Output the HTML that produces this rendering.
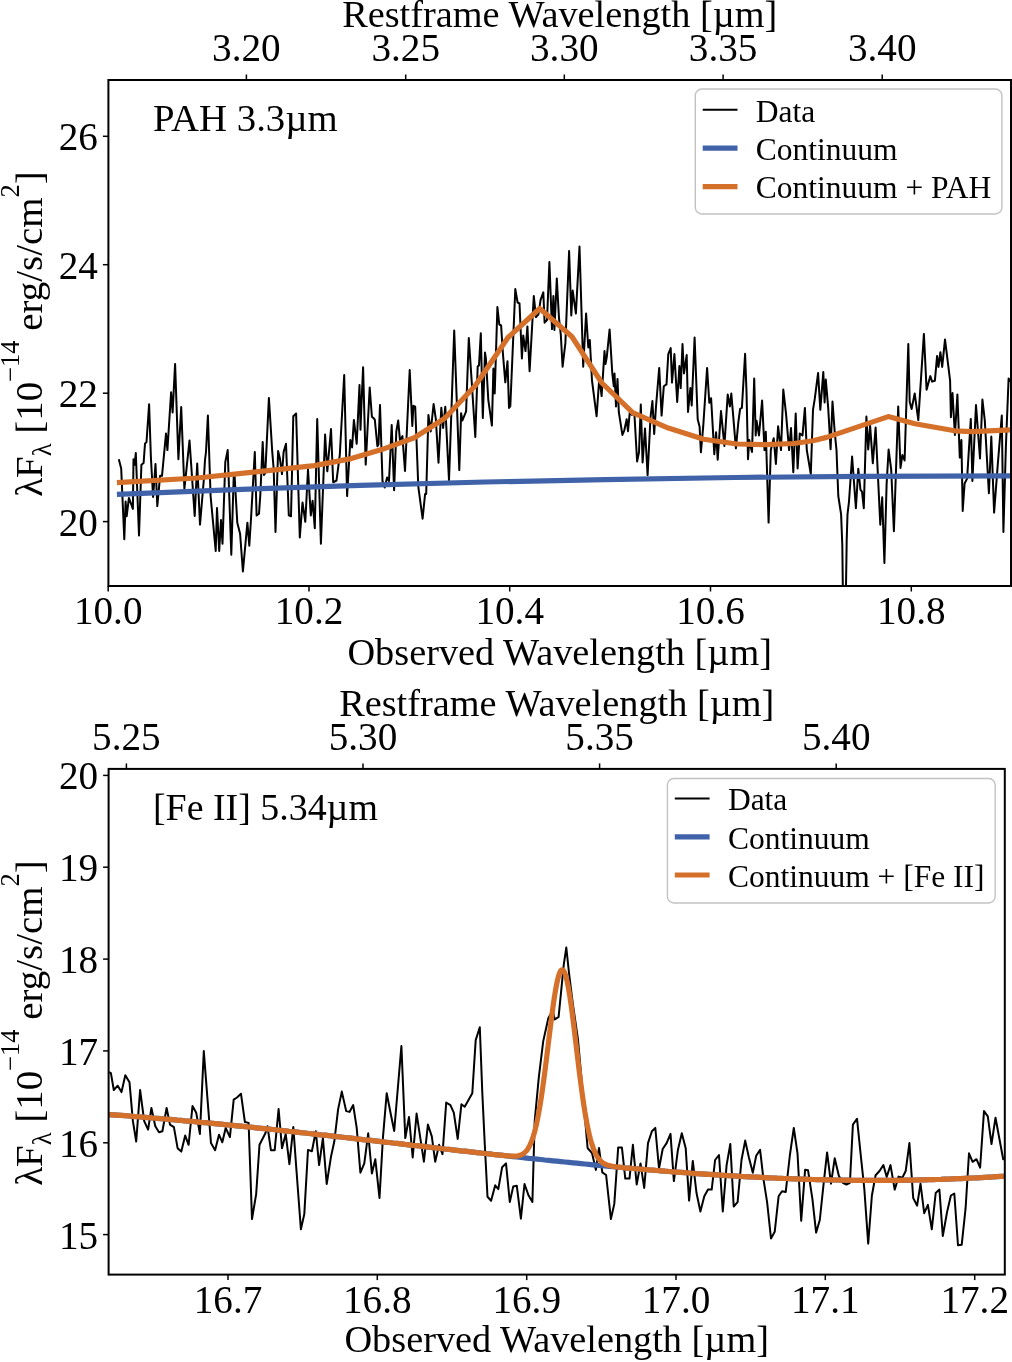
<!DOCTYPE html><html><head><meta charset="utf-8"><style>html,body{margin:0;padding:0;background:#fff;overflow:hidden}svg{display:block;will-change:transform}</style></head><body><svg width="1012" height="1362" viewBox="0 0 1012 1362" font-family="Liberation Serif, serif" fill="#000">
<defs>
<clipPath id="c1"><rect x="108.4" y="80" width="902.6" height="506"/></clipPath>
<clipPath id="c2"><rect x="108.6" y="768.9" width="896.1999999999999" height="505.69999999999993"/></clipPath>
</defs>
<style>.tk{stroke:#000;stroke-width:1.5}.ax{fill:none;stroke:#000;stroke-width:2}</style>
<rect width="1012" height="1362" fill="#fff"/>
<polyline points="118.8,459.3 121.2,468.5 124.3,539.2 125.6,501.5 126.7,516.2 128.9,497.9 132.9,508.9 133.5,459.3 134.7,464.8 135.8,452.9 139.0,535.5 141.4,464.8 143.6,463.0 145.0,443.7 146.5,442.0 149.1,404.2 150.9,457.5 153.1,497.0 155.5,463.9 157.3,506.1 160.1,475.8 162.0,475.8 166.0,433.6 167.4,450.1 171.1,392.3 172.6,412.5 175.1,363.9 178.4,459.3 181.2,407.0 184.4,489.0 189.5,440.4 194.7,516.0 197.2,463.5 200.0,524.6 203.8,480.0 205.0,460.0 206.0,452.0 207.9,415.5 210.6,496.0 215.7,551.0 217.0,508.0 219.2,551.0 221.0,520.0 222.5,543.7 225.3,462.0 227.7,450.1 231.3,554.8 233.7,476.9 234.6,476.0 237.3,522.7 240.1,533.7 242.9,571.4 247.4,522.7 249.3,545.7 251.1,517.2 254.8,452.1 256.6,515.4 259.0,513.6 260.3,495.2 262.7,442.0 264.0,475.0 265.3,473.0 268.9,397.9 272.2,451.1 273.7,469.5 275.5,531.9 278.1,451.1 279.9,458.5 282.0,474.1 283.6,452.1 286.0,443.8 288.8,515.4 291.0,516.3 293.3,416.3 296.1,413.5 299.8,537.4 302.5,502.5 305.3,521.8 308.0,469.5 310.8,515.4 312.6,500.7 314.8,528.2 317.2,419.0 320.9,543.8 325.1,434.6 327.3,471.3 331.0,429.1 333.2,482.3 336.5,480.5 339.8,454.8 344.2,375.0 347.1,496.1 350.3,440.1 352.1,447.5 353.9,419.9 356.7,443.8 359.5,385.1 360.5,429.7 361.4,405.8 363.1,367.3 365.7,464.6 369.7,387.5 371.9,416.8 373.4,418.0 374.8,419.6 377.4,446.2 378.5,444.4 380.0,404.9 382.5,481.1 384.7,487.5 387.1,477.4 389.0,481.0 391.7,425.1 394.1,490.3 396.3,431.5 398.2,420.5 400.0,440.7 402.4,436.1 405.0,471.0 409.7,370.0 412.3,426.0 413.4,405.8 415.2,406.7 418.3,486.6 422.6,518.7 425.1,493.9 426.2,493.9 428.4,415.0 430.7,431.5 433.6,404.0 435.8,418.7 438.5,462.7 441.3,407.7 443.1,427.9 445.3,406.7 449.0,480.2 454.2,330.6 459.3,470.1 461.1,413.2 462.4,420.5 466.1,411.3 468.8,337.9 471.6,380.1 475.3,437.0 477.7,366.4 479.0,365.4 480.8,333.3 482.8,418.1 485.0,352.6 485.9,358.5 488.3,399.8 491.9,425.5 493.4,368.6 494.7,393.4 497.4,307.1 499.3,324.5 501.1,325.4 503.0,354.8 505.3,382.3 507.5,361.2 509.0,408.0 510.3,406.2 515.3,289.1 517.6,302.5 519.5,303.4 521.9,358.5 523.2,335.5 525.5,351.1 527.4,326.4 529.6,371.3 533.8,296.1 536.0,317.2 538.4,314.4 540.6,299.8 543.3,292.4 544.6,322.7 547.0,320.0 549.4,262.1 552.0,329.1 553.4,296.1 554.4,330.0 556.8,278.6 559.0,318.1 560.8,334.6 562.6,366.7 565.4,342.9 569.1,251.1 571.3,315.4 572.7,290.6 575.9,313.5 579.5,246.5 583.2,366.7 586.1,313.5 588.3,347.5 589.8,340.1 592.0,380.5 596.6,416.3 599.4,376.8 601.6,396.1 604.5,351.1 605.5,364.0 606.8,356.9 609.6,329.4 612.3,373.4 613.8,386.3 614.5,373.4 616.0,406.5 617.5,378.9 618.8,412.0 622.4,434.9 624.3,430.3 626.7,419.3 628.0,431.2 629.8,412.0 631.6,414.7 634.4,413.8 637.1,461.5 639.0,452.3 640.8,404.6 642.6,462.4 645.0,428.5 647.6,475.3 650.5,417.5 652.4,401.0 654.2,434.0 656.0,406.5 659.2,367.9 661.6,415.6 663.8,386.3 666.5,384.4 668.3,354.1 670.7,348.1 672.0,382.6 674.4,354.1 677.2,401.9 679.4,366.1 680.7,388.1 682.5,344.1 684.0,373.4 686.7,355.1 688.0,412.0 690.4,388.1 691.7,405.5 694.6,337.6 697.7,419.3 699.6,426.7 700.9,452.3 703.2,426.7 707.1,367.9 709.3,402.8 711.1,398.2 714.3,454.2 716.1,432.2 717.7,459.7 721.0,411.1 724.4,445.9 727.7,394.5 729.9,406.5 731.3,393.6 733.3,417.1 735.9,448.3 738.3,422.6 740.1,408.8 741.9,407.9 743.2,385.9 745.1,353.8 746.5,391.4 748.0,459.3 749.3,440.0 750.6,446.5 752.0,452.0 754.2,378.5 755.7,435.4 756.6,420.8 759.0,435.4 762.1,400.6 764.5,450.1 765.8,431.8 768.6,522.6 770.8,450.1 773.7,438.2 775.9,463.9 778.1,426.3 781.0,450.1 783.3,389.6 786.0,413.4 789.1,450.1 791.0,428.1 793.3,472.2 795.7,413.4 797.6,468.5 799.8,433.6 802.5,435.4 804.9,407.9 806.8,450.1 810.8,474.0 813.0,409.8 814.8,398.7 818.1,373.0 820.3,409.8 823.3,372.1 824.6,402.4 825.8,379.5 828.2,407.9 830.6,449.2 832.5,401.5 834.7,431.8 836.5,450.1 838.3,496.0 841.1,514.4 842.3,545.0 843.0,600.0 845.8,600.0 846.7,540.0 847.5,514.4 849.0,501.5 852.1,456.6 855.9,508.2 858.3,468.8 860.5,489.9 862.0,491.7 863.8,508.2 866.4,416.5 868.2,449.5 870.1,425.6 872.8,463.3 875.6,427.5 880.3,524.8 882.2,497.2 884.4,563.0 886.6,484.4 888.6,449.5 891.2,469.7 893.9,531.2 898.2,406.4 900.5,467.9 902.4,455.0 904.6,460.5 908.3,344.0 909.7,401.8 911.6,409.1 914.7,393.5 918.3,420.1 923.9,333.9 926.6,389.8 930.3,376.1 932.1,381.6 934.9,380.7 937.1,355.9 938.5,366.9 940.4,352.2 942.2,366.9 945.0,339.4 950.1,380.7 950.9,417.2 952.5,393.0 954.9,435.0 957.4,394.6 959.8,457.6 961.4,439.9 962.7,510.9 964.6,483.5 967.1,478.6 970.8,418.9 972.4,481.0 976.0,405.1 980.0,458.4 982.4,399.5 984.8,420.5 988.9,493.2 991.3,436.6 994.1,512.6 997.8,464.1 1001.8,415.6 1003.4,531.9 1005.9,446.3 1008.6,378.5 1010.7,381.7 1013.0,385.0" fill="none" stroke="#000" stroke-width="2.0" stroke-linejoin="round" stroke-linecap="butt" clip-path="url(#c1)"/>
<polyline points="116.9,494.4 235.0,489.6 360.0,485.3 485.0,482.0 605.0,479.7 735.0,477.5 860.0,476.3 1012.0,475.8" fill="none" stroke="#3F62A8" stroke-width="5.2" stroke-linejoin="round" stroke-linecap="butt" clip-path="url(#c1)"/>
<polyline points="116.9,482.7 197.0,478.0 253.5,472.2 314.3,465.6 351.3,458.6 381.7,449.6 414.3,437.8 444.8,418.3 475.2,385.7 508.0,337.5 539.7,308.5 571.8,336.5 601.9,383.0 632.7,412.7 668.3,428.1 703.8,439.2 737.0,444.0 765.5,444.7 794.0,443.5 812.9,440.7 826.6,437.4 888.3,416.6 914.9,423.8 954.7,430.8 971.8,431.7 1012.0,429.8" fill="none" stroke="#D5702A" stroke-width="5.2" stroke-linejoin="round" stroke-linecap="butt" clip-path="url(#c1)"/>
<polyline points="109.2,1072.2 110.9,1073.1 113.8,1090.0 117.7,1085.7 121.5,1092.1 125.3,1075.3 129.5,1082.3 132.9,1121.2 136.2,1141.5 140.1,1090.0 144.2,1121.2 148.1,1129.6 151.4,1108.0 155.3,1126.3 159.0,1132.2 162.4,1131.3 166.6,1108.0 170.0,1124.6 173.9,1127.1 177.6,1148.2 181.3,1151.6 185.2,1135.5 188.6,1144.8 192.5,1106.0 196.2,1112.7 199.9,1133.9 203.8,1051.1 207.1,1094.2 211.0,1143.1 215.1,1150.2 219.0,1134.7 222.3,1142.3 225.7,1127.9 229.9,1137.2 233.7,1099.6 237.0,1097.5 241.0,1093.8 244.9,1122.0 248.6,1122.9 252.0,1219.1 256.2,1193.8 259.5,1144.8 265.5,1133.0 267.5,1126.3 270.9,1150.2 274.7,1150.2 278.6,1109.0 282.0,1148.2 285.7,1133.9 289.4,1164.2 293.3,1127.1 296.7,1173.5 300.9,1229.3 304.3,1214.1 308.0,1149.9 311.9,1151.2 315.8,1131.3 319.1,1165.1 322.9,1138.1 326.7,1184.0 331.0,1156.6 334.3,1141.5 338.1,1109.4 341.8,1091.6 346.2,1111.1 349.5,1111.9 353.2,1105.1 356.7,1127.9 360.4,1172.7 364.3,1163.4 368.2,1133.3 371.9,1173.5 375.3,1159.2 379.5,1198.0 382.9,1138.1 386.7,1093.3 390.5,1112.7 394.2,1131.0 401.4,1046.0 405.3,1138.1 409.0,1117.0 412.7,1157.5 416.6,1113.6 423.9,1161.7 427.9,1124.6 431.8,1136.4 435.2,1161.7 439.1,1144.8 442.5,1154.1 446.2,1102.6 450.4,1105.1 453.8,1112.7 457.7,1138.9 461.4,1104.3 464.7,1106.8 472.3,1093.3 475.7,1040.1 479.8,1027.2 482.3,1092.8 484.9,1146.7 487.5,1196.8 491.1,1200.7 495.2,1185.3 498.3,1189.1 502.1,1167.3 506.0,1163.4 509.8,1202.0 513.2,1186.6 516.8,1185.8 520.9,1218.7 524.5,1184.0 528.6,1195.6 532.4,1202.0 534.7,1121.0 538.8,1077.3 543.2,1041.4 548.3,1018.2 552.7,1010.5 554.8,1019.5 558.6,1016.9 563.8,964.3 566.3,947.5 568.9,972.0 572.7,1002.8 577.9,1038.8 583.0,1095.3 587.6,1148.0 592.0,1153.1 595.9,1169.9 599.0,1148.0 602.3,1172.4 606.1,1175.0 610.9,1219.1 614.3,1203.9 618.2,1147.4 621.9,1147.4 625.3,1178.6 629.5,1178.6 632.9,1144.8 636.7,1184.5 640.5,1163.4 644.2,1187.9 648.0,1143.1 651.9,1131.3 655.3,1127.9 659.0,1168.5 662.7,1149.0 666.6,1143.1 670.5,1133.9 673.9,1181.1 677.9,1149.9 681.8,1133.3 685.7,1148.2 689.1,1200.6 692.8,1160.9 696.5,1193.0 700.4,1211.5 704.3,1196.3 708.0,1189.6 711.7,1189.6 715.1,1160.0 719.0,1155.0 722.8,1211.5 726.6,1165.1 730.3,1144.0 733.7,1206.5 737.6,1202.2 741.5,1160.0 745.2,1140.6 748.9,1157.5 752.8,1172.7 756.2,1155.8 760.1,1149.9 763.4,1178.6 767.1,1202.2 771.0,1238.5 774.7,1231.8 778.6,1196.3 782.0,1191.3 785.7,1192.1 789.9,1155.0 793.8,1127.9 797.5,1153.3 801.2,1220.8 805.1,1169.8 808.0,1170.2 812.4,1198.9 816.1,1232.6 819.8,1220.0 823.7,1182.8 827.1,1152.4 831.0,1183.7 834.7,1158.3 838.9,1176.1 842.8,1182.8 846.5,1184.5 849.9,1182.8 852.9,1124.6 857.0,1118.7 860.9,1156.6 864.3,1188.7 868.2,1243.6 871.9,1195.5 875.6,1175.2 879.5,1171.0 883.4,1165.1 886.7,1176.9 890.5,1165.1 894.7,1189.6 898.6,1176.6 902.3,1177.8 905.7,1171.0 909.4,1143.1 913.2,1198.0 917.1,1205.6 920.5,1183.7 924.2,1213.2 927.9,1204.8 931.8,1229.3 935.7,1193.0 939.4,1189.6 942.8,1236.0 947.0,1212.4 950.9,1195.5 954.3,1193.5 958.0,1245.3 961.7,1244.8 965.6,1208.2 969.0,1153.3 972.6,1161.8 976.5,1159.2 980.1,1167.7 984.0,1111.1 987.8,1116.3 991.5,1144.1 995.5,1117.7 1003.2,1159.3 1006.0,1159.3" fill="none" stroke="#000" stroke-width="2.0" stroke-linejoin="round" stroke-linecap="butt" clip-path="url(#c2)"/>
<polyline points="108.9,1114.6 112.9,1114.8 116.9,1115.1 120.9,1115.4 124.9,1115.7 128.9,1116.0 132.9,1116.4 136.9,1116.7 140.9,1117.0 144.9,1117.3 148.9,1117.6 152.9,1118.0 156.9,1118.3 160.9,1118.7 164.9,1119.0 168.9,1119.3 172.9,1119.7 176.9,1120.1 180.9,1120.4 184.9,1120.8 188.9,1121.1 192.9,1121.5 196.9,1121.9 200.9,1122.3 204.9,1122.6 208.9,1123.0 212.9,1123.4 216.9,1123.8 220.9,1124.2 224.9,1124.6 228.9,1125.0 232.9,1125.4 236.9,1125.8 240.9,1126.2 244.9,1126.6 248.9,1127.0 252.9,1127.4 256.9,1127.9 260.9,1128.3 264.9,1128.7 268.9,1129.1 272.9,1129.5 276.9,1130.0 280.9,1130.4 284.9,1130.8 288.9,1131.3 292.9,1131.7 296.9,1132.1 300.9,1132.6 304.9,1133.0 308.9,1133.5 312.9,1133.9 316.9,1134.3 320.9,1134.8 324.9,1135.2 328.9,1135.7 332.9,1136.1 336.9,1136.6 340.9,1137.0 344.9,1137.5 348.9,1137.9 352.9,1138.4 356.9,1138.9 360.9,1139.3 364.9,1139.8 368.9,1140.2 372.9,1140.7 376.9,1141.1 380.9,1141.6 384.9,1142.1 388.9,1142.5 392.9,1143.0 396.9,1143.4 400.9,1143.9 404.9,1144.4 408.9,1144.8 412.9,1145.3 416.9,1145.7 420.9,1146.2 424.9,1146.7 428.9,1147.1 432.9,1147.6 436.9,1148.0 440.9,1148.5 444.9,1149.0 448.9,1149.4 452.9,1149.9 456.9,1150.3 460.9,1150.8 464.9,1151.2 468.9,1151.7 472.9,1152.1 476.9,1152.6 480.9,1153.0 484.9,1153.5 488.9,1153.9 492.9,1154.4 496.9,1154.8 500.9,1155.2 504.9,1155.7 508.9,1156.1 512.9,1156.6 516.9,1157.0 520.9,1157.4 524.9,1157.8 528.9,1158.3 532.9,1158.7 536.9,1159.1 540.9,1159.5 544.9,1160.0 548.9,1160.4 552.9,1160.8 556.9,1161.2 560.9,1161.6 564.9,1162.0 568.9,1162.4 572.9,1162.8 576.9,1163.2 580.9,1163.6 584.9,1164.0 588.9,1164.4 592.9,1164.8 596.9,1165.2 600.9,1165.6 604.9,1165.9 608.9,1166.3 612.9,1166.7 616.9,1167.1 620.9,1167.4 624.9,1167.8 628.9,1168.1 632.9,1168.5 636.9,1168.8 640.9,1169.2 644.9,1169.5 648.9,1169.9 652.9,1170.2 656.9,1170.5 660.9,1170.8 664.9,1171.2 668.9,1171.5 672.9,1171.8 676.9,1172.1 680.9,1172.4 684.9,1172.7 688.9,1173.0 692.9,1173.3 696.9,1173.6 700.9,1173.8 704.9,1174.1 708.9,1174.4 712.9,1174.7 716.9,1174.9 720.9,1175.2 724.9,1175.4 728.9,1175.7 732.9,1175.9 736.9,1176.1 740.9,1176.4 744.9,1176.6 748.9,1176.8 752.9,1177.0 756.9,1177.2 760.9,1177.4 764.9,1177.6 768.9,1177.8 772.9,1178.0 776.9,1178.2 780.9,1178.3 784.9,1178.5 788.9,1178.7 792.9,1178.8 796.9,1178.9 800.9,1179.1 804.9,1179.2 808.9,1179.3 812.9,1179.5 816.9,1179.6 820.9,1179.7 824.9,1179.8 828.9,1179.9 832.9,1180.0 836.9,1180.0 840.9,1180.1 844.9,1180.2 848.9,1180.2 852.9,1180.3 856.9,1180.3 860.9,1180.3 864.9,1180.4 868.9,1180.4 872.9,1180.4 876.9,1180.4 880.9,1180.4 884.9,1180.4 888.9,1180.4 892.9,1180.3 896.9,1180.3 900.9,1180.3 904.9,1180.2 908.9,1180.1 912.9,1180.1 916.9,1180.0 920.9,1179.9 924.9,1179.8 928.9,1179.7 932.9,1179.6 936.9,1179.5 940.9,1179.4 944.9,1179.2 948.9,1179.1 952.9,1178.9 956.9,1178.7 960.9,1178.6 964.9,1178.4 968.9,1178.2 972.9,1178.0 976.9,1177.8 980.9,1177.6 984.9,1177.3 988.9,1177.1 992.9,1176.9 996.9,1176.6 1000.9,1176.3 1004.9,1176.1 1008.9,1175.8" fill="none" stroke="#3F62A8" stroke-width="5.2" stroke-linejoin="round" stroke-linecap="butt" clip-path="url(#c2)"/>
<polyline points="108.9,1114.6 112.9,1114.8 116.9,1115.1 120.9,1115.4 124.9,1115.7 128.9,1116.0 132.9,1116.4 136.9,1116.7 140.9,1117.0 144.9,1117.3 148.9,1117.6 152.9,1118.0 156.9,1118.3 160.9,1118.7 164.9,1119.0 168.9,1119.3 172.9,1119.7 176.9,1120.1 180.9,1120.4 184.9,1120.8 188.9,1121.1 192.9,1121.5 196.9,1121.9 200.9,1122.3 204.9,1122.6 208.9,1123.0 212.9,1123.4 216.9,1123.8 220.9,1124.2 224.9,1124.6 228.9,1125.0 232.9,1125.4 236.9,1125.8 240.9,1126.2 244.9,1126.6 248.9,1127.0 252.9,1127.4 256.9,1127.9 260.9,1128.3 264.9,1128.7 268.9,1129.1 272.9,1129.5 276.9,1130.0 280.9,1130.4 284.9,1130.8 288.9,1131.3 292.9,1131.7 296.9,1132.1 300.9,1132.6 304.9,1133.0 308.9,1133.5 312.9,1133.9 316.9,1134.3 320.9,1134.8 324.9,1135.2 328.9,1135.7 332.9,1136.1 336.9,1136.6 340.9,1137.0 344.9,1137.5 348.9,1137.9 352.9,1138.4 356.9,1138.9 360.9,1139.3 364.9,1139.8 368.9,1140.2 372.9,1140.7 376.9,1141.1 380.9,1141.6 384.9,1142.1 388.9,1142.5 392.9,1143.0 396.9,1143.4 400.9,1143.9 404.9,1144.4 408.9,1144.8 412.9,1145.3 416.9,1145.7 420.9,1146.2 424.9,1146.7 428.9,1147.1 432.9,1147.6 436.9,1148.0 440.9,1148.5 444.9,1149.0 448.9,1149.4 452.9,1149.9 456.9,1150.3 460.9,1150.8 464.9,1151.2 468.9,1151.7 472.9,1152.1 476.9,1152.6 480.9,1153.0 484.9,1153.5 488.9,1153.9 492.9,1154.4 496.9,1154.8 500.9,1155.2 502.3,1155.4 502.8,1155.4 503.3,1155.5 503.8,1155.5 504.3,1155.6 504.8,1155.6 504.9,1155.6 505.3,1155.7 505.8,1155.7 506.3,1155.8 506.8,1155.8 507.3,1155.9 507.8,1155.9 508.3,1155.9 508.8,1156.0 508.9,1156.0 509.3,1156.0 509.8,1156.0 510.3,1156.1 510.8,1156.1 511.3,1156.1 511.8,1156.1 512.3,1156.2 512.8,1156.2 512.9,1156.2 513.3,1156.2 513.8,1156.2 514.3,1156.2 514.8,1156.2 515.3,1156.1 515.8,1156.1 516.3,1156.1 516.8,1156.0 516.9,1156.0 517.3,1155.9 517.8,1155.9 518.3,1155.8 518.8,1155.7 519.3,1155.5 519.8,1155.4 520.3,1155.2 520.8,1155.0 520.9,1155.0 521.3,1154.8 521.8,1154.6 522.3,1154.3 522.8,1154.0 523.3,1153.7 523.8,1153.4 524.3,1153.0 524.8,1152.5 524.9,1152.4 525.3,1152.0 525.8,1151.5 526.3,1151.0 526.8,1150.3 527.3,1149.7 527.8,1148.9 528.3,1148.2 528.8,1147.3 528.9,1147.1 529.3,1146.4 529.8,1145.4 530.3,1144.3 530.8,1143.2 531.3,1142.0 531.8,1140.7 532.3,1139.3 532.8,1137.8 532.9,1137.5 533.3,1136.3 533.8,1134.6 534.3,1132.9 534.8,1131.0 535.3,1129.1 535.8,1127.0 536.3,1124.8 536.8,1122.6 536.9,1122.1 537.3,1120.2 537.8,1117.7 538.3,1115.1 538.8,1112.4 539.3,1109.6 539.8,1106.7 540.3,1103.6 540.8,1100.5 540.9,1099.9 541.3,1097.3 541.8,1093.9 542.3,1090.5 542.8,1087.0 543.3,1083.4 543.8,1079.7 544.3,1075.9 544.8,1072.1 544.9,1071.3 545.3,1068.2 545.8,1064.2 546.3,1060.2 546.8,1056.2 547.3,1052.1 547.8,1048.0 548.3,1043.9 548.8,1039.8 548.9,1039.0 549.3,1035.7 549.8,1031.6 550.3,1027.6 550.8,1023.6 551.3,1019.7 551.8,1015.8 552.3,1012.0 552.8,1008.3 552.9,1007.6 553.3,1004.7 553.8,1001.2 554.3,997.9 554.8,994.7 555.3,991.6 555.8,988.7 556.3,986.0 556.8,983.5 556.9,983.0 557.3,981.1 557.8,979.0 558.3,977.1 558.8,975.3 559.3,973.9 559.8,972.6 560.3,971.5 560.8,970.7 560.9,970.6 561.3,970.2 561.8,969.9 562.3,969.8 562.8,970.0 563.3,970.4 563.8,971.1 564.3,972.0 564.8,973.1 564.9,973.3 565.3,974.5 565.8,976.1 566.3,977.9 566.8,979.9 567.3,982.2 567.8,984.6 568.3,987.3 568.8,990.1 568.9,990.7 569.3,993.1 569.8,996.2 570.3,999.5 570.8,1003.0 571.3,1006.5 571.8,1010.2 572.3,1014.0 572.8,1017.9 572.9,1018.7 573.3,1021.9 573.8,1025.9 574.3,1030.0 574.8,1034.2 575.3,1038.3 575.8,1042.5 576.3,1046.7 576.8,1050.9 576.9,1051.8 577.3,1055.1 577.8,1059.3 578.3,1063.5 578.8,1067.6 579.3,1071.6 579.8,1075.6 580.3,1079.6 580.8,1083.4 580.9,1084.2 581.3,1087.2 581.8,1090.9 582.3,1094.6 582.8,1098.1 583.3,1101.5 583.8,1104.9 584.3,1108.1 584.8,1111.2 584.9,1111.9 585.3,1114.3 585.8,1117.2 586.3,1120.0 586.8,1122.7 587.3,1125.3 587.8,1127.8 588.3,1130.1 588.8,1132.4 588.9,1132.8 589.3,1134.6 589.8,1136.6 590.3,1138.6 590.8,1140.4 591.3,1142.2 591.8,1143.8 592.3,1145.4 592.8,1146.9 592.9,1147.2 593.3,1148.3 593.8,1149.6 594.3,1150.8 594.8,1152.0 595.3,1153.1 595.8,1154.1 596.3,1155.1 596.8,1156.0 596.9,1156.1 597.3,1156.8 597.8,1157.6 598.3,1158.3 598.8,1158.9 599.3,1159.6 599.8,1160.1 600.3,1160.7 600.8,1161.2 600.9,1161.3 601.3,1161.6 601.8,1162.1 602.3,1162.5 602.8,1162.8 603.3,1163.2 603.8,1163.5 604.3,1163.7 604.8,1164.0 604.9,1164.1 605.3,1164.3 605.8,1164.5 606.3,1164.7 606.8,1164.9 607.3,1165.1 607.8,1165.2 608.3,1165.4 608.8,1165.5 608.9,1165.6 609.3,1165.7 609.8,1165.8 610.3,1165.9 610.8,1166.0 611.3,1166.1 611.8,1166.2 612.3,1166.3 612.8,1166.4 612.9,1166.4 613.3,1166.5 613.8,1166.5 614.3,1166.6 614.8,1166.7 615.3,1166.8 615.8,1166.8 616.3,1166.9 616.8,1166.9 616.9,1167.0 617.3,1167.0 617.8,1167.1 618.3,1167.1 618.8,1167.2 619.3,1167.2 619.8,1167.3 620.3,1167.3 620.8,1167.4 620.9,1167.4 621.3,1167.4 621.8,1167.5 622.3,1167.5 624.9,1167.8 628.9,1168.1 632.9,1168.5 636.9,1168.8 640.9,1169.2 644.9,1169.5 648.9,1169.9 652.9,1170.2 656.9,1170.5 660.9,1170.8 664.9,1171.2 668.9,1171.5 672.9,1171.8 676.9,1172.1 680.9,1172.4 684.9,1172.7 688.9,1173.0 692.9,1173.3 696.9,1173.6 700.9,1173.8 704.9,1174.1 708.9,1174.4 712.9,1174.7 716.9,1174.9 720.9,1175.2 724.9,1175.4 728.9,1175.7 732.9,1175.9 736.9,1176.1 740.9,1176.4 744.9,1176.6 748.9,1176.8 752.9,1177.0 756.9,1177.2 760.9,1177.4 764.9,1177.6 768.9,1177.8 772.9,1178.0 776.9,1178.2 780.9,1178.3 784.9,1178.5 788.9,1178.7 792.9,1178.8 796.9,1178.9 800.9,1179.1 804.9,1179.2 808.9,1179.3 812.9,1179.5 816.9,1179.6 820.9,1179.7 824.9,1179.8 828.9,1179.9 832.9,1180.0 836.9,1180.0 840.9,1180.1 844.9,1180.2 848.9,1180.2 852.9,1180.3 856.9,1180.3 860.9,1180.3 864.9,1180.4 868.9,1180.4 872.9,1180.4 876.9,1180.4 880.9,1180.4 884.9,1180.4 888.9,1180.4 892.9,1180.3 896.9,1180.3 900.9,1180.3 904.9,1180.2 908.9,1180.1 912.9,1180.1 916.9,1180.0 920.9,1179.9 924.9,1179.8 928.9,1179.7 932.9,1179.6 936.9,1179.5 940.9,1179.4 944.9,1179.2 948.9,1179.1 952.9,1178.9 956.9,1178.7 960.9,1178.6 964.9,1178.4 968.9,1178.2 972.9,1178.0 976.9,1177.8 980.9,1177.6 984.9,1177.3 988.9,1177.1 992.9,1176.9 996.9,1176.6 1000.9,1176.3 1004.9,1176.1 1008.9,1175.8" fill="none" stroke="#D5702A" stroke-width="5.2" stroke-linejoin="round" stroke-linecap="butt" clip-path="url(#c2)"/>
<rect x="108.4" y="80" width="902.6" height="506" class="ax"/>
<line x1="108.2" y1="586" x2="108.2" y2="591.5" class="tk"/>
<text x="108.2" y="624.0" font-size="39.2" text-anchor="middle" >10.0</text>
<line x1="309.0" y1="586" x2="309.0" y2="591.5" class="tk"/>
<text x="309.0" y="624.0" font-size="39.2" text-anchor="middle" >10.2</text>
<line x1="509.7" y1="586" x2="509.7" y2="591.5" class="tk"/>
<text x="509.7" y="624.0" font-size="39.2" text-anchor="middle" >10.4</text>
<line x1="710.5" y1="586" x2="710.5" y2="591.5" class="tk"/>
<text x="710.5" y="624.0" font-size="39.2" text-anchor="middle" >10.6</text>
<line x1="911.3" y1="586" x2="911.3" y2="591.5" class="tk"/>
<text x="911.3" y="624.0" font-size="39.2" text-anchor="middle" >10.8</text>
<line x1="246.4" y1="80" x2="246.4" y2="74.5" class="tk"/>
<text x="246.4" y="61.0" font-size="39.2" text-anchor="middle" >3.20</text>
<line x1="405.7" y1="80" x2="405.7" y2="74.5" class="tk"/>
<text x="405.7" y="61.0" font-size="39.2" text-anchor="middle" >3.25</text>
<line x1="564.3" y1="80" x2="564.3" y2="74.5" class="tk"/>
<text x="564.3" y="61.0" font-size="39.2" text-anchor="middle" >3.30</text>
<line x1="723.1" y1="80" x2="723.1" y2="74.5" class="tk"/>
<text x="723.1" y="61.0" font-size="39.2" text-anchor="middle" >3.35</text>
<line x1="882.2" y1="80" x2="882.2" y2="74.5" class="tk"/>
<text x="882.2" y="61.0" font-size="39.2" text-anchor="middle" >3.40</text>
<line x1="108.4" y1="521.6" x2="102.9" y2="521.6" class="tk"/>
<text x="97.9" y="535.6" font-size="39.2" text-anchor="end" >20</text>
<line x1="108.4" y1="393.2" x2="102.9" y2="393.2" class="tk"/>
<text x="97.9" y="407.2" font-size="39.2" text-anchor="end" >22</text>
<line x1="108.4" y1="264.7" x2="102.9" y2="264.7" class="tk"/>
<text x="97.9" y="278.7" font-size="39.2" text-anchor="end" >24</text>
<line x1="108.4" y1="136.3" x2="102.9" y2="136.3" class="tk"/>
<text x="97.9" y="150.3" font-size="39.2" text-anchor="end" >26</text>
<text x="559.7" y="26.7" font-size="38.3" text-anchor="middle" >Restframe Wavelength [µm]</text>
<text x="559.7" y="664.5" font-size="38.3" text-anchor="middle" >Observed Wavelength [µm]</text>
<rect x="108.6" y="768.9" width="896.1999999999999" height="505.69999999999993" class="ax"/>
<line x1="228.0" y1="1274.6" x2="228.0" y2="1280.1" class="tk"/>
<text x="228.0" y="1312.6" font-size="39.2" text-anchor="middle" >16.7</text>
<line x1="377.3" y1="1274.6" x2="377.3" y2="1280.1" class="tk"/>
<text x="377.3" y="1312.6" font-size="39.2" text-anchor="middle" >16.8</text>
<line x1="526.7" y1="1274.6" x2="526.7" y2="1280.1" class="tk"/>
<text x="526.7" y="1312.6" font-size="39.2" text-anchor="middle" >16.9</text>
<line x1="676.0" y1="1274.6" x2="676.0" y2="1280.1" class="tk"/>
<text x="676.0" y="1312.6" font-size="39.2" text-anchor="middle" >17.0</text>
<line x1="825.3" y1="1274.6" x2="825.3" y2="1280.1" class="tk"/>
<text x="825.3" y="1312.6" font-size="39.2" text-anchor="middle" >17.1</text>
<line x1="974.7" y1="1274.6" x2="974.7" y2="1280.1" class="tk"/>
<text x="974.7" y="1312.6" font-size="39.2" text-anchor="middle" >17.2</text>
<line x1="126.4" y1="768.9" x2="126.4" y2="763.4" class="tk"/>
<text x="126.4" y="749.7" font-size="39.2" text-anchor="middle" >5.25</text>
<line x1="363.0" y1="768.9" x2="363.0" y2="763.4" class="tk"/>
<text x="363.0" y="749.7" font-size="39.2" text-anchor="middle" >5.30</text>
<line x1="599.6" y1="768.9" x2="599.6" y2="763.4" class="tk"/>
<text x="599.6" y="749.7" font-size="39.2" text-anchor="middle" >5.35</text>
<line x1="836.2" y1="768.9" x2="836.2" y2="763.4" class="tk"/>
<text x="836.2" y="749.7" font-size="39.2" text-anchor="middle" >5.40</text>
<line x1="108.6" y1="1234.6" x2="103.1" y2="1234.6" class="tk"/>
<text x="98.1" y="1248.6" font-size="39.2" text-anchor="end" >15</text>
<line x1="108.6" y1="1142.8" x2="103.1" y2="1142.8" class="tk"/>
<text x="98.1" y="1156.8" font-size="39.2" text-anchor="end" >16</text>
<line x1="108.6" y1="1050.9" x2="103.1" y2="1050.9" class="tk"/>
<text x="98.1" y="1064.9" font-size="39.2" text-anchor="end" >17</text>
<line x1="108.6" y1="959.1" x2="103.1" y2="959.1" class="tk"/>
<text x="98.1" y="973.1" font-size="39.2" text-anchor="end" >18</text>
<line x1="108.6" y1="867.2" x2="103.1" y2="867.2" class="tk"/>
<text x="98.1" y="881.2" font-size="39.2" text-anchor="end" >19</text>
<line x1="108.6" y1="775.4" x2="103.1" y2="775.4" class="tk"/>
<text x="98.1" y="789.4" font-size="39.2" text-anchor="end" >20</text>
<text x="556.7" y="715.6" font-size="38.3" text-anchor="middle" >Restframe Wavelength [µm]</text>
<text x="556.7" y="1352.3" font-size="38.3" text-anchor="middle" >Observed Wavelength [µm]</text>
<text x="153.0" y="130.5" font-size="38.8" text-anchor="start" >PAH 3.3µm</text>
<text x="153.0" y="819.8" font-size="37.9" text-anchor="start" >[Fe II] 5.34µm</text>
<rect x="695.3" y="89.0" width="306.6" height="125.0" rx="6.5" ry="6.5" fill="#fff" fill-opacity="0.8" stroke="#c2c2c2" stroke-width="1.4"/>
<line x1="702.6999999999999" y1="109.8" x2="737.5" y2="109.8" stroke="#000" stroke-width="2.0"/>
<text x="755.8" y="121.6" font-size="31.5" text-anchor="start" >Data</text>
<line x1="702.6999999999999" y1="148.2" x2="737.5" y2="148.2" stroke="#3F62A8" stroke-width="5.2"/>
<text x="755.8" y="160.0" font-size="31.5" text-anchor="start" >Continuum</text>
<line x1="702.6999999999999" y1="186.6" x2="737.5" y2="186.6" stroke="#D5702A" stroke-width="5.2"/>
<text x="755.8" y="198.4" font-size="31.5" text-anchor="start" >Continuum + PAH</text>
<rect x="667.4" y="778.5" width="327.80000000000007" height="124.5" rx="6.5" ry="6.5" fill="#fff" fill-opacity="0.8" stroke="#c2c2c2" stroke-width="1.4"/>
<line x1="674.8" y1="798.5" x2="709.6" y2="798.5" stroke="#000" stroke-width="2.0"/>
<text x="727.9" y="810.3" font-size="31.5" text-anchor="start" >Data</text>
<line x1="674.8" y1="836.8" x2="709.6" y2="836.8" stroke="#3F62A8" stroke-width="5.2"/>
<text x="727.9" y="848.6" font-size="31.5" text-anchor="start" >Continuum</text>
<line x1="674.8" y1="875" x2="709.6" y2="875" stroke="#D5702A" stroke-width="5.2"/>
<text x="727.9" y="886.8" font-size="31.5" text-anchor="start" >Continuum + [Fe II]</text>
<g transform="translate(41.6,334) rotate(-90)">
<text x="0" y="0" font-size="38.9" text-anchor="middle">λF<tspan font-size="26.5" dy="9.5">λ</tspan><tspan dy="-9.5"> [10</tspan><tspan font-size="26.5" dy="-22.5">−14</tspan><tspan dy="22.5"> erg/s/cm</tspan><tspan font-size="26.5" dy="-22.5">2</tspan><tspan dy="22.5">]</tspan></text>
</g>
<g transform="translate(41.6,1023) rotate(-90)">
<text x="0" y="0" font-size="38.9" text-anchor="middle">λF<tspan font-size="26.5" dy="9.5">λ</tspan><tspan dy="-9.5"> [10</tspan><tspan font-size="26.5" dy="-22.5">−14</tspan><tspan dy="22.5"> erg/s/cm</tspan><tspan font-size="26.5" dy="-22.5">2</tspan><tspan dy="22.5">]</tspan></text>
</g>
</svg></body></html>
